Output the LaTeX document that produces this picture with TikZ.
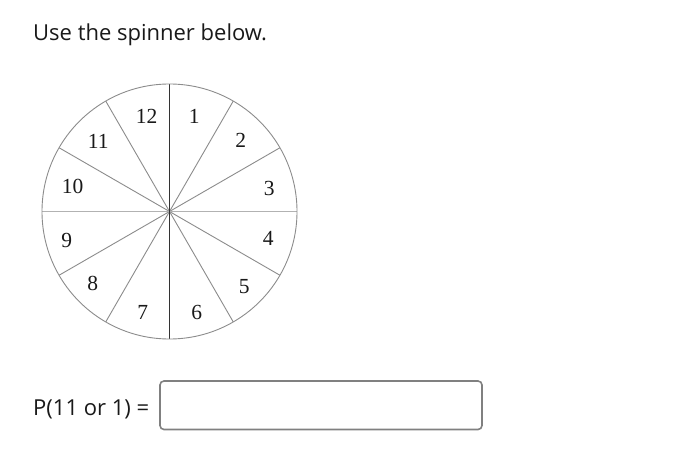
\documentclass[tikz,border=0pt]{standalone}
\usepackage{fontspec}
\setmainfont{Liberation Serif}
\newfontfamily\uifont{Open Sans}
\begin{document}
\begin{tikzpicture}[x=1pt,y=-1pt,
  spoke/.style={draw=black!45, line width=0.9pt},
  num/.style={font=\fontsize{21.5}{23}\selectfont, text=black!90, inner sep=0pt},
  ui/.style={font=\uifont\fontsize{22}{26}\selectfont, text=black!90, inner sep=0pt, anchor=base west}]
\useasboundingbox (0,0) rectangle (700,449);
\fill[white] (0,0) rectangle (700,449);
\node[ui] (title) at (33,41) {Use the spinner below.};
\coordinate (c) at (169.5,211.5);
\foreach \a in {30,60,120,150,210,240,300,330}
  \draw[spoke] (c) -- ++(\a:127.5 and -127.5);
\draw[draw=black!30, line width=1pt] (c) -- ++(127.5,0);
\draw[draw=black!30, line width=1pt] (c) -- ++(-127.5,0);
\draw[draw=black!80, line width=0.9pt] (c) -- ++(0,-127.5);
\draw[draw=black!80, line width=0.9pt] (c) -- ++(0,127.5);
\draw[spoke] (c) circle[radius=127.5];
\node[num] (n12) at (146.7,116.7) {12};
\node[num] (n1) at (194.3,116.7) {1};
\node[num] (n2) at (240.7,140) {2};
\node[num] (n3) at (269.3,188.3) {3};
\node[num] (n4) at (268.3,238.3) {4};
\node[num] (n5) at (244.3,286.7) {5};
\node[num] (n6) at (196.7,312.7) {6};
\node[num] (n7) at (142.7,312.7) {7};
\node[num] (n8) at (92.7,283.3) {8};
\node[num] (n9) at (66.7,240) {9};
\node[num] (n10) at (72.7,186.7) {10};
\node[num] (n11) at (98.3,141.7) {11};
\node[ui] (prob) at (33,415) {P(11 or 1) =};
\draw[draw=black!50, line width=1.6pt, rounded corners=4pt] (160,381) rectangle (482,429.5);
\end{tikzpicture}
\end{document}
